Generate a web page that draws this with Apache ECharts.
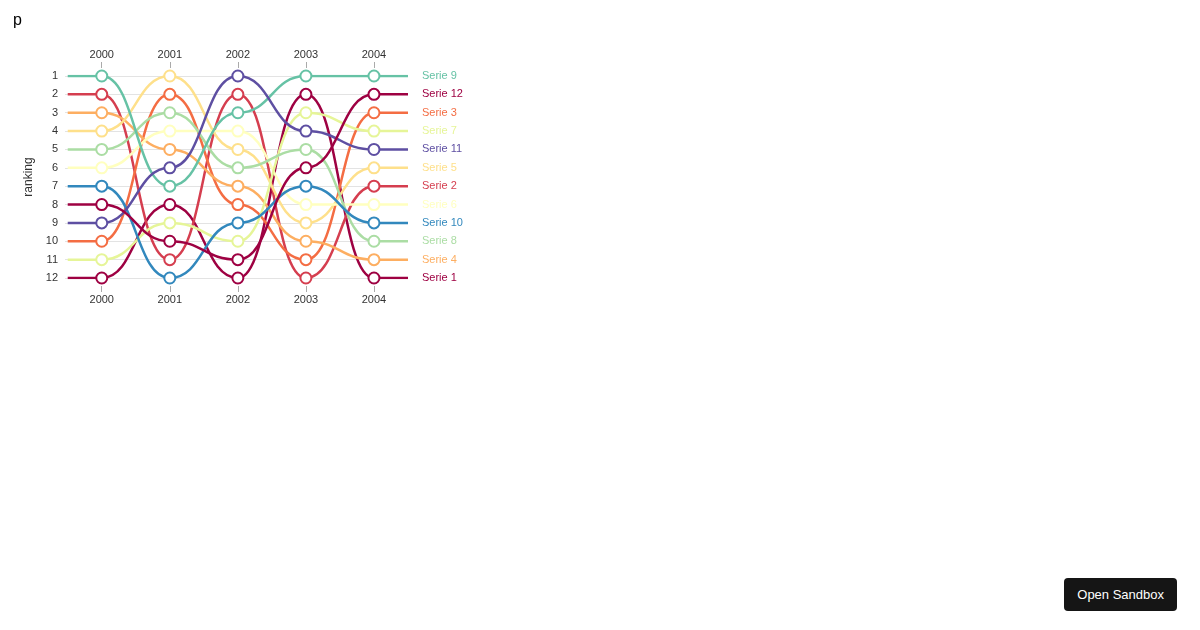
<!DOCTYPE html>
<html><head><meta charset="utf-8">
<script src="https://cdn.jsdelivr.net/npm/echarts@6/dist/echarts.min.js"></script>
<style>html,body{margin:0;padding:0;background:#fff;font-family:"Liberation Sans",Arial,sans-serif}
#c{width:1200px;height:630px}
#btn{position:absolute;right:23px;top:578px;background:#151515;color:#fff;font-size:13px;padding:9px 13px;border-radius:4px}</style>
</head><body><div id="c"></div><div id="btn">Open Sandbox</div>
<script>
const years = [2000, 2001, 2002, 2003, 2004];
const rankTicks = [1,2,3,4,5,6,7,8,9,10,11,12];
const serie1  = [12, 8, 12, 2, 12];
const serie2  = [2, 11, 2, 12, 7];
const serie3  = [10, 2, 8, 11, 3];
const serie4  = [3, 5, 7, 10, 11];
const serie5  = [4, 1, 5, 9, 6];
const serie6  = [6, 4, 4, 8, 8];
const serie7  = [11, 9, 10, 3, 4];
const serie8  = [5, 3, 6, 5, 10];
const serie9  = [1, 7, 3, 1, 1];
const serie10 = [7, 12, 9, 7, 9];
const serie11 = [9, 6, 1, 4, 5];
const serie12 = [8, 10, 11, 6, 2];
const names = ['Serie 1','Serie 2','Serie 3','Serie 4','Serie 5','Serie 6','Serie 7','Serie 8','Serie 9','Serie 10','Serie 11','Serie 12'];
const values = [serie1,serie2,serie3,serie4,serie5,serie6,serie7,serie8,serie9,serie10,serie11,serie12];
const colors = ['#9e0142','#d53e4f','#f46d43','#fdae61','#fee08b','#ffffbf','#e6f598','#abdda4','#66c2a5','#3288bd','#5e4fa2','#9e0142'];

const chart = echarts.init(document.getElementById('c'));
const series = values.map((v, i) => {
  const data = [[years[0]-0.5, v[0], 'edge']]
    .concat(years.map((y, j) => [y, v[j]]))
    .concat([[years[years.length-1]+0.5, v[v.length-1], 'edge']]);
  return {
    name: names[i], type: 'line', data,
    smooth: 0.5, smoothMonotone: 'x',
    symbol: (val) => val[2] === 'edge' ? 'none' : 'emptyCircle',
    symbolSize: 11,
    lineStyle: {width: 2.5, color: colors[i]},
    itemStyle: {color: colors[i], borderWidth: 2.5, borderColor: colors[i]},
    endLabel: {show: true, formatter: names[i], color: colors[i], fontSize: 11, distance: 14},
    z: 2
  };
});
chart.setOption({
  animation: false,
  title: {text: 'p', left: 8, top: 8, textStyle: {fontSize: 16, fontWeight: 'normal', color: '#000'}},
  grid: {left: 65, right: 792, top: 76, bottom: 352},
  xAxis: [
    {type: 'value', min: 1999.46, max: 2004.5, position: 'top', offset: 8,
     axisLine: {show: false}, splitLine: {show: false},
     axisTick: {show: true, length: 6, lineStyle: {color: '#aaa'}, customValues: years},
     axisLabel: {color: '#333', fontSize: 11, customValues: years, formatter: v => String(v)}},
    {type: 'value', min: 1999.46, max: 2004.5, position: 'bottom', offset: 8,
     axisLine: {show: false}, splitLine: {show: false},
     axisTick: {show: true, length: 6, lineStyle: {color: '#aaa'}, customValues: years},
     axisLabel: {color: '#333', fontSize: 11, customValues: years, formatter: v => String(v)}}
  ],
  yAxis: {type: 'value', inverse: true, min: 1, max: 12, interval: 1,
    name: 'ranking', nameLocation: 'middle', nameGap: 30, nameRotate: 90,
    nameTextStyle: {color: '#333', fontSize: 12},
    axisLine: {show: false}, axisTick: {show: false},
    axisLabel: {color: '#333', fontSize: 11, margin: 7},
    splitLine: {lineStyle: {color: '#e3e3e3'}}},
  series
});
</script></body></html>
